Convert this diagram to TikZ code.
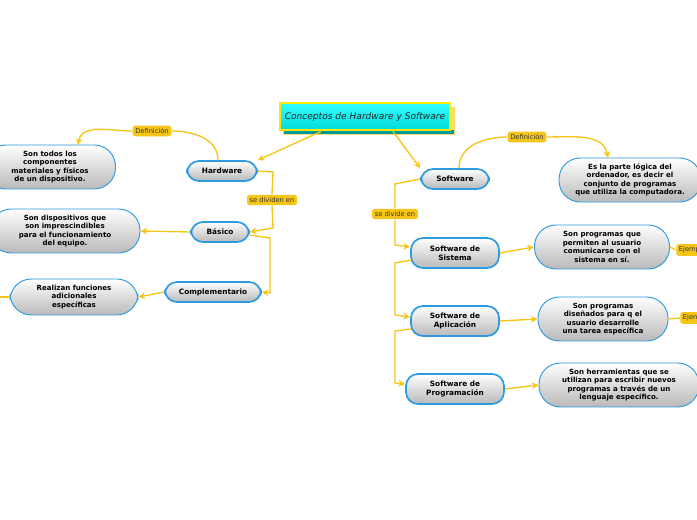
\documentclass[tikz,border=0pt]{standalone}
\usepackage{fontspec}
\setmainfont{DejaVu Sans}
\usetikzlibrary{arrows.meta,shadows}
\definecolor{lk}{HTML}{F5C518}
\definecolor{bb}{HTML}{2E9BE0}
\tikzset{
 box/.style={draw=bb,line width=1.3pt,rounded corners=9pt,top color=white,bottom color=gray!55,
   font=\bfseries\fontsize{5.5}{6.5}\selectfont,align=center,inner sep=1pt},
 desc/.style={draw=bb,line width=0.7pt,rounded corners=16pt,top color=white,bottom color=gray!55,
   font=\bfseries\fontsize{5.3}{6.3}\selectfont,align=center,inner sep=1pt},
 lab/.style={fill=lk,rounded corners=2pt,font=\fontsize{5}{6}\selectfont,inner sep=2pt,text=black!80},
 ln/.style={draw=lk,line width=1pt},
 ar/.style={ln,-{Stealth[length=5pt,width=5pt]}}
}
\begin{document}
\begin{tikzpicture}[x=0.75pt,y=-0.75pt]
\useasboundingbox (0,0) rectangle (697,520);
\fill[white] (0,0) rectangle (697,520);
% title
\fill[lk!60] (283,107) rectangle (455,135);
\fill[teal!80!cyan] (284,130) rectangle (454,134);
\node[draw=yellow!90!orange,line width=1.5pt,top color=cyan!80!white,bottom color=cyan!70!teal,minimum width=170*0.75pt,minimum height=27*0.75pt,inner xsep=2pt,
  font=\itshape\fontsize{6.8}{8}\selectfont,text=black!85] (t) at (365,117) {Conceptos de Hardware y Software};
% left
\node[box,minimum width=70*0.75pt,minimum height=20*0.75pt] (hw) at (222,171) {Hardware};
\node[box,minimum width=58*0.75pt,minimum height=20*0.75pt] (ba) at (220,232) {Básico};
\node[box,minimum width=96*0.75pt,minimum height=20*0.75pt] (co) at (213,292) {Complementario};
\node[desc,minimum width=131*0.75pt,minimum height=44*0.75pt] (hwd) at (50,167) {Son todos los\\componentes\\materiales y físicos\\de un dispositivo.};
\node[desc,minimum width=150*0.75pt,minimum height=44*0.75pt] (bad) at (65,231) {Son dispositivos que\\son imprescindibles\\para el funcionamiento\\del equipo.};
\node[desc,minimum width=128*0.75pt,minimum height=36*0.75pt] (cod) at (74,297) {Realizan funciones\\adicionales\\específicas};
\coordinate (le) at (0,297);
\draw[ln] (le) -- (cod.west);
\node[lab] (d1) at (152,131) {Definición};
\node[lab] (sd) at (272,200) {se dividen en};
% right
\node[box,minimum width=68*0.75pt,minimum height=20*0.75pt] (sw) at (455,179) {Software};
\node[desc,minimum width=142*0.75pt,minimum height=44*0.75pt] (swd) at (630,180) {Es la parte lógica del\\ordenador, es decir el\\conjunto de programas\\que utiliza la computadora.};
\node[lab] (d2) at (527,137) {Definición};
\node[lab] (sdi) at (395,214) {se divide en};
\node[box,minimum width=88*0.75pt,minimum height=30*0.75pt] (si) at (455,253) {Software de\\Sistema};
\node[box,minimum width=88*0.75pt,minimum height=30*0.75pt] (ap) at (455,321) {Software de\\Aplicación};
\node[box,minimum width=98*0.75pt,minimum height=30*0.75pt] (pr) at (455,389) {Software de\\Programación};
\node[desc,minimum width=135*0.75pt,minimum height=44*0.75pt] (sid) at (602,247) {Son programas que\\permiten al usuario\\comunicarse con el\\sistema en sí.};
\node[desc,minimum width=130*0.75pt,minimum height=44*0.75pt] (apd) at (603,319) {Son programas\\diseñados para q el\\usuario desarrolle\\una tarea específica};
\node[desc,minimum width=160*0.75pt,minimum height=44*0.75pt] (prd) at (619,385) {Son herramientas que se\\utilizan para escribir nuevos\\programas a través de un\\lenguaje específico.};
\node[lab,anchor=west] (e1) at (676,250) {Ejemplos};
\node[lab,anchor=west] (e2) at (680,318) {Ejemplos};
% connectors
\draw[ar] (t.south west)++(42,0) -- (hw.north east);
\draw[ar] (t.south east)++(-58,0) -- (sw.north west);
\draw[ln] (218,160) to[out=90,in=0] (d1.east);
\draw[ar] (d1.west) to[out=180,in=80] (78,145);
\draw[ln] (hw.east) -- (273,172) -- (sd.north);
\draw[ar] (sd.south) -- (273,228) -- (ba.east);
\draw[ar] (ba.east) ++(0,3) -- (270,238) -- (270,293) -- (co.east);
\draw[ar] (ba.west) -- (bad.east);
\draw[ar] (co.west) -- (cod.east);
\draw[ln] (459,168) to[out=90,in=180] (d2.west);
\draw[ar] (d2.east) to[out=0,in=100] (608,158);
\draw[ln] (sw.west) -- (395,184) -- (sdi.north);
\draw[ar] (sdi.south) -- (395,245) -- (410,247);
\draw[ar] (411,260) -- (395,263) -- (395,315) -- (410,317);
\draw[ar] (411,329) -- (395,331) -- (395,383) -- (405,384);
\draw[ar] (si.east) -- (sid.west);
\draw[ar] (ap.east) -- (apd.west);
\draw[ar] (pr.east) -- (prd.west);
\draw[ln] (sid.east) -- (e1.west);
\draw[ln] (apd.east) -- (e2.west);
\end{tikzpicture}
\end{document}
